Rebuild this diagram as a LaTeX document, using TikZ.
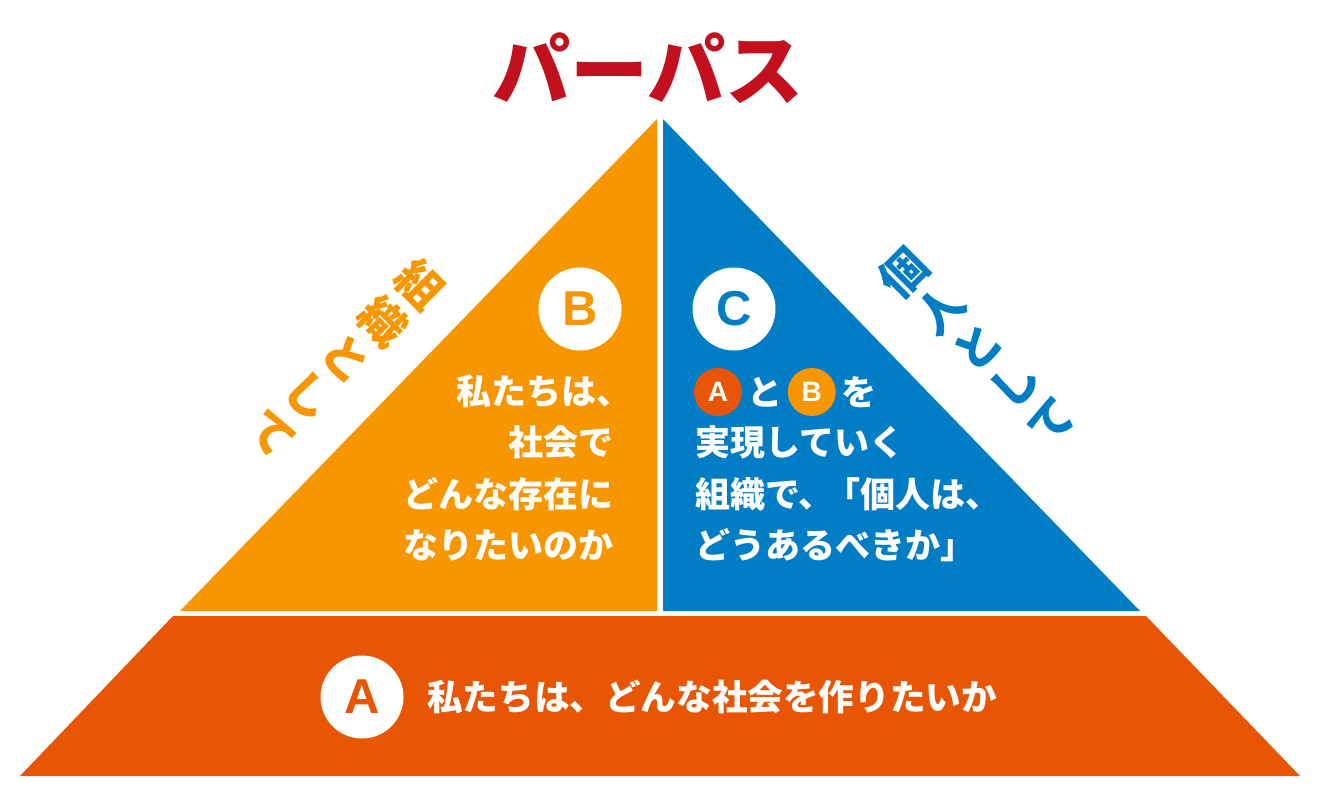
\documentclass[tikz,border=0pt]{standalone}
\usepackage{fontspec}
\usetikzlibrary{positioning}
\newfontfamily\jp{Noto Sans CJK JP}
\newfontfamily\lat{Liberation Sans}
\definecolor{purposered}{RGB}{195,16,31}
\definecolor{orgorange}{RGB}{248,150,0}
\definecolor{perblue}{RGB}{0,125,197}
\definecolor{socorange}{RGB}{232,85,4}

\begin{document}
\begin{tikzpicture}[x=1pt,y=-1pt]
  \tikzstyle{badge}=[circle,fill=white,minimum size=83pt,inner sep=0pt,font=\lat\bfseries\fontsize{49}{49}\selectfont]
  \tikzstyle{minibadge}=[circle,minimum size=48pt,inner sep=0pt,text=white,font=\lat\bfseries\fontsize{28}{28}\selectfont]
  \tikzstyle{body}=[inner sep=0pt,text=white,font=\jp\bfseries\fontsize{35}{51.5}\selectfont]
  \tikzstyle{side}=[inner sep=0pt,align=center,font=\jp\bfseries\fontsize{46}{52.5}\selectfont]

  \useasboundingbox (0,0) rectangle (1320,800);

  \fill[socorange] (173,616) -- (1146,616) -- (1300,776) -- (20,776) -- cycle;
  \fill[orgorange] (657,119) -- (657,611) -- (180,611) -- cycle;
  \fill[perblue] (663,119) -- (663,611) -- (1140,611) -- cycle;

  \node[font=\jp\bfseries\fontsize{78}{78}\selectfont,text=purposered] (title) at (648,68) {パーパス};

  % A
  \node[badge,text=socorange] (A) at (362,697) {A};
  \node[body,anchor=west,font=\jp\bfseries\fontsize{35.6}{40}\selectfont] (A-text) at (427,697) {私たちは、どんな社会を作りたいか};

  % B
  \node[badge,text=orgorange] (B) at (580,309) {B};
  \node[body,anchor=east,align=right] (B-text) at (614,468) {私たちは、\kern-.5em\\社会で\\どんな存在に\\なりたいのか};

  % C
  \node[badge,text=perblue] (C) at (734,309) {C};
  \node[minibadge,fill=socorange] (C-a) at (718,392) {A};
  \node[body,right=5pt of C-a] (C-to) {と};
  \node[minibadge,fill=orgorange,right=5pt of C-to] (C-b) {B};
  \node[body,right=5pt of C-b] (C-wo) {を};
  \node[body,anchor=west,align=left] (C-text) at (695,494) {実現していく\\組織で、\kern-.25em「個人は、\\どうあるべきか」};

  % side labels
  \node[side,text=orgorange,rotate=-45] (org) at (347,358) {組\\織\\と\\し\\て};
  \node[side,text=perblue,rotate=45] (per) at (976.6,346) {個\\人\\と\\し\\て};
\end{tikzpicture}
\end{document}
